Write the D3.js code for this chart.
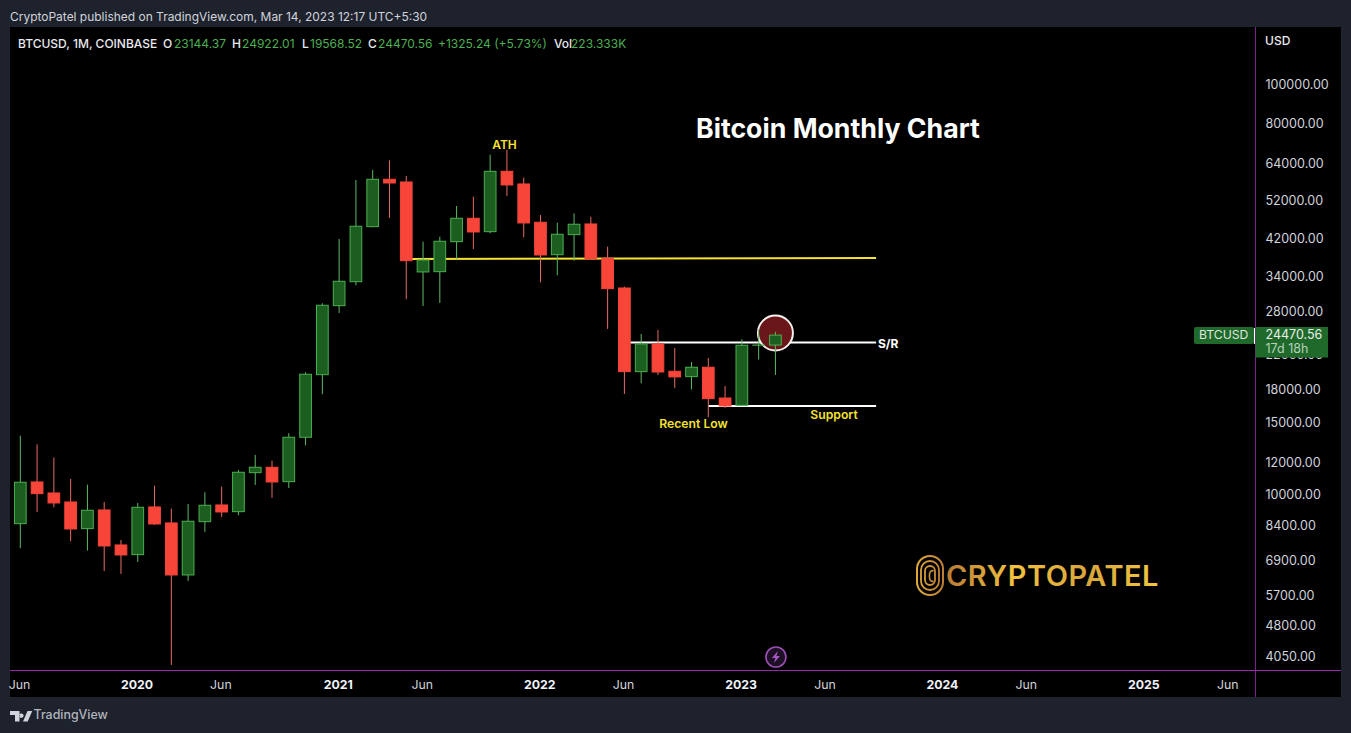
<!DOCTYPE html>
<html>
<head>
<meta charset="utf-8">
<script src="https://cdn.jsdelivr.net/npm/d3@7"></script>
<style>
  html, body { margin: 0; padding: 0; background: #1e222d; }
  svg { display: block; }
  text { font-family: Inter, "Liberation Sans", sans-serif; }
</style>
</head>
<body>
<svg id="chart" width="1351" height="733"></svg>
<script>
// monthly candles, Jun 2019 .. Mar 2023
const opens = [8504, 10744, 10101, 9604, 8270, 9183, 7547, 7148, 9339, 8538, 6379, 8600,
  9444, 9096, 11319, 11666, 10762, 13803, 19605, 28864, 33017, 44946, 58620, 57740,
  34870, 34925, 41320, 47110, 43700, 61300, 57100, 46070, 38410, 42980, 45630, 37650,
  31870, 19940, 23290, 19980, 19390, 20440, 17200, 16510, 23125, 23144.37];
const highs = [13928, 13272, 12312, 10926, 10582, 9604, 7762, 9551, 10523, 9250, 9497, 10141,
  10464, 11491, 12499, 12106, 14116, 19870, 29254, 41943, 58393, 61755, 65200, 59720,
  41320, 42490, 50470, 53180, 67280, 69070, 59150, 48000, 45960, 48450, 47540, 40170,
  32110, 24630, 25190, 22770, 21050, 21530, 18400, 23910, 25250, 24922.01];
const lows = [7410, 9081, 9323, 7705, 7311, 6523, 6415, 6861, 8443, 3852, 6168, 8118,
  8830, 8914, 10564, 9822, 10388, 13198, 17566, 27706, 32360, 44795, 47200, 29920,
  28810, 29300, 37440, 39660, 43310, 53380, 42350, 32910, 34230, 37140, 37440, 25330,
  17600, 18680, 19570, 18200, 18060, 15440, 16270, 16450, 21350, 19568.52];
const closes = [10726, 10062, 9551, 8255, 9168, 7505, 7136, 9323, 8490, 6379, 8620, 9428,
  9081, 11344, 11666, 10744, 13803, 19651, 28929, 33090, 45047, 58620, 57420, 37140,
  37290, 41410, 47110, 43630, 61300, 56780, 45890, 38350, 43070, 45560, 37500, 31750,
  19940, 23290, 19900, 19360, 20440, 17140, 16450, 23120, 23144, 24470.56];

const priceTicks = [100000, 80000, 64000, 52000, 42000, 34000, 28000, 22000, 18000,
  15000, 12000, 10000, 8400, 6900, 5700, 4800, 4050];
const timeTicks = ["2019-06", "2020-01", "2020-06", "2021-01", "2021-06", "2022-01", "2022-06",
  "2023-01", "2023-06", "2024-01", "2024-06", "2025-01", "2025-06"];

const yellowLevel = [37520, 37710];
const srLevel = 23480;
const supportLevel = 16450;

const monthFmt = d3.utcFormat("%Y-%m");
const months = d3.utcMonth.range(new Date(Date.UTC(2019, 5, 1)), new Date(Date.UTC(2025, 6, 1))).map(monthFmt);
const candles = opens.map((o, i) => ({month: months[i], o, h: highs[i], l: lows[i], c: closes[i]}));

const svg = d3.select("#chart");
const paneLeft = 10, paneRight = 1341, paneTop = 27, paneBottom = 697, axisX = 1255, axisY = 671;
const UP = "#4caf50", UPFILL = "#1b5e20", DOWN = "#f7453a", WICKDOWN = "#e86a62", WICKUP = "#5fb865", PURPLE = "#9c27b0", YELLOW = "#f5e330";

const x = d3.scalePoint().domain(months).range([20.3, 1228.5]);
const y = d3.scaleLog().domain([4050, 100000]).range([656, 84]);

const defs = svg.append("defs");
const gold = defs.append("linearGradient").attr("id", "gold").attr("gradientUnits", "userSpaceOnUse")
  .attr("x1", 917).attr("x2", 1160).attr("y1", 0).attr("y2", 0);
gold.append("stop").attr("offset", "0%").attr("stop-color", "#e0a83c");
gold.append("stop").attr("offset", "12%").attr("stop-color", "#b87a34");
gold.append("stop").attr("offset", "40%").attr("stop-color", "#f2c23e");
gold.append("stop").attr("offset", "70%").attr("stop-color", "#d9a53a");
gold.append("stop").attr("offset", "100%").attr("stop-color", "#f3c842");

// page + pane
svg.append("rect").attr("width", 1351).attr("height", 733).attr("fill", "#1e222d");
svg.append("rect").attr("x", paneLeft).attr("y", paneTop).attr("width", paneRight - paneLeft).attr("height", paneBottom - paneTop).attr("fill", "#000");

// horizontal levels sit behind the candles
svg.append("line").attr("x1", x("2021-05")).attr("x2", x("2023-09"))
  .attr("y1", y(yellowLevel[0])).attr("y2", y(yellowLevel[1]))
  .attr("stroke", YELLOW).attr("stroke-width", 2);
svg.selectAll(".level").data([[srLevel, "2022-06"], [supportLevel, "2022-11"]]).join("line")
  .attr("class", "level")
  .attr("x1", d => x(d[1])).attr("x2", x("2023-09"))
  .attr("y1", d => y(d[0])).attr("y2", d => y(d[0]))
  .attr("stroke", "#fff").attr("stroke-width", 2);

// highlight around the last candle
svg.append("circle").attr("cx", x("2023-03")).attr("cy", 333).attr("r", 17.5)
  .attr("fill", "#6a1719").attr("stroke", "#f4f0ee").attr("stroke-width", 2);

// candles
const bodyW = 11.7;
const g = svg.append("g").selectAll("g").data(candles).join("g");
g.append("line")
  .attr("x1", d => x(d.month)).attr("x2", d => x(d.month))
  .attr("y1", d => y(d.h)).attr("y2", d => y(d.l))
  .attr("stroke", d => d.c >= d.o ? WICKUP : WICKDOWN).attr("stroke-width", 1);
g.append("rect")
  .attr("x", d => x(d.month) - bodyW / 2).attr("width", bodyW)
  .attr("y", d => y(Math.max(d.o, d.c)))
  .attr("height", d => Math.abs(y(d.o) - y(d.c)))
  .attr("fill", d => d.c >= d.o ? UPFILL : DOWN)
  .attr("stroke", d => d.c >= d.o ? UP : DOWN).attr("stroke-width", 1);

// price axis
const yAxis = d3.axisRight(y).tickValues(priceTicks).tickFormat(d => d.toFixed(2)).tickSize(0).tickPadding(0);
const yG = svg.append("g").attr("transform", `translate(1265.5,0)`).call(yAxis);
yG.select(".domain").remove();
yG.selectAll("text").attr("fill", "#d1d4dc").style("font-size", "12.5px").style("font-family", "Inter, sans-serif");

// time axis
const xAxis = d3.axisBottom(x).tickValues(timeTicks)
  .tickFormat(d => d.endsWith("-01") ? d.slice(0, 4) : "Jun").tickSize(0).tickPadding(0);
const xG = svg.append("g").attr("transform", `translate(-1.3,680)`).call(xAxis);
xG.select(".domain").remove();
xG.selectAll("text")
  .attr("fill", d => d.endsWith("-01") ? "#f0f3fa" : "#d1d4dc")
  .style("font-size", "12.3px").style("font-family", "Inter, sans-serif")
  .style("font-weight", d => d.endsWith("-01") ? 700 : 400);

// pane separators
svg.append("line").attr("x1", axisX + .5).attr("x2", axisX + .5).attr("y1", paneTop).attr("y2", paneBottom).attr("stroke", PURPLE).attr("stroke-opacity", .8);
svg.append("line").attr("x1", paneLeft).attr("x2", paneRight).attr("y1", axisY - .5).attr("y2", axisY - .5).attr("stroke", PURPLE).attr("stroke-width", 1.2);

function label(txt, px, py, size, fill, weight, anchor) {
  return svg.append("text").text(txt).attr("x", px).attr("y", py)
    .attr("dominant-baseline", "middle").attr("text-anchor", anchor || "start")
    .attr("font-size", size).attr("fill", fill).attr("font-weight", weight || 400);
}

// header + legend
label("CryptoPatel published on TradingView.com, Mar 14, 2023 12:17 UTC+5:30", 10, 17.5, 11.98, "#d1d4dc");
label("BTCUSD, 1M, COINBASE", 18, 45, 12, "#e8eaf0", 500);
[["O", "23144.37", 163, 174], ["H", "24922.01", 232, 242], ["L", "19568.52", 302, 310], ["C", "24470.56", 368, 378]].forEach(d => {
  label(d[0], d[2], 45, 12, "#e8eaf0", 500);
  label(d[1], d[3], 45, 12, UP);
});
label("+1325.24 (+5.73%)", 438, 45, 12, UP);
label("Vol", 554, 45, 12, "#e8eaf0", 500);
label("223.333K", 571, 45, 12, UP);
label("USD", 1265, 41.5, 12, "#e8eaf0", 500);

// annotations
label("Bitcoin Monthly Chart", 696, 131, 26.7, "#fff", 700);
label("ATH", 504.5, 145.5, 12, YELLOW, 600, "middle");
label("Recent Low", 693.5, 424.5, 12.2, YELLOW, 600, "middle");
label("Support", 834, 416, 12.2, YELLOW, 600, "middle");
label("S/R", 878, 344.5, 12, "#fff", 700);

// last price badges
svg.append("rect").attr("x", 1194).attr("y", 327).attr("width", 60).attr("height", 17).attr("rx", 2).attr("fill", "#1f6a2b");
svg.append("rect").attr("x", 1255.5).attr("y", 327).attr("width", 72.5).attr("height", 30.5).attr("fill", "#1f6a2b");
svg.append("line").attr("x1", 1254.5).attr("x2", 1254.5).attr("y1", 328).attr("y2", 344).attr("stroke", "#fff");
label("BTCUSD", 1199, 336, 12.2, "#dfe5df");
label("24470.56", 1265.5, 336, 12.5, "#e8ede8");
label("17d 18h", 1265.5, 350, 12.5, "#b6d0b8");

// watermark logo
const logo = svg.append("g").attr("fill", "none").attr("stroke", "url(#gold)");
[[917, 556, 26, 39, 13, 2], [921, 561, 18, 29, 9, 1.8], [925, 566, 10, 19, 5, 1.8]].forEach(r => {
  logo.append("rect").attr("x", r[0]).attr("y", r[1]).attr("width", r[2]).attr("height", r[3]).attr("rx", r[4]).attr("stroke-width", r[5]);
});
logo.append("path").attr("d", "M933.5 571a2.8 4 0 0 0-4 3v4a2.8 4 0 0 0 4 3").attr("stroke-width", 1.6);
svg.append("text").text("CRYPTOPATEL").attr("x", 946).attr("y", 585.5)
  .attr("font-size", 28.5).attr("font-weight", 600).attr("letter-spacing", 0.55)
  .attr("fill", "url(#gold)").attr("textLength", 213).attr("lengthAdjust", "spacingAndGlyphs");

// lightning marker on the time line
const bolt = svg.append("g").attr("transform", `translate(${x("2023-03") + .5},657)`);
bolt.append("circle").attr("r", 10).attr("fill", "#1d0f24").attr("stroke", "#9b4fb5").attr("stroke-width", 1.6);
bolt.append("path").attr("d", "M2-6L-4 1H-.5L-2 6 4-1H.5Z").attr("fill", "#a855c8");

// footer brand
svg.append("path").attr("d", "M10 711h9.5v10.5h-4.5v-6.5h-5ZM27.5 711h4.7l-4.5 10.5h-4.7ZM21.3 713.4a2.3 2.3 0 1 0 .01 0Z").attr("fill", "#d1d4dc");
label("TradingView", 33.5, 716, 12.4, "#b2b5be", 500);
</script>
</body>
</html>
